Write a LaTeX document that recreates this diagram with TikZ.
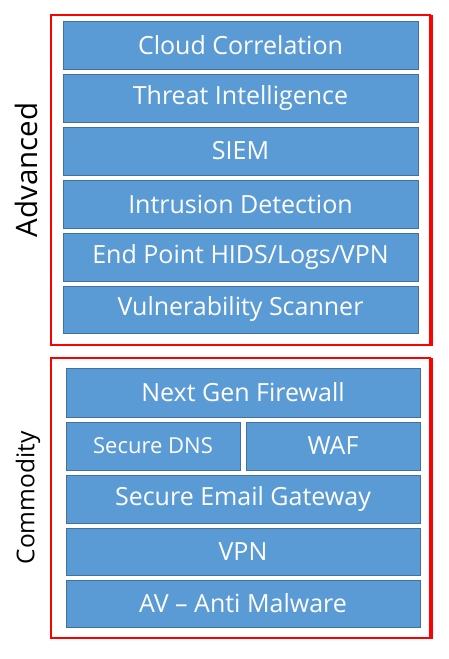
\documentclass[tikz,border=0pt]{standalone}
\usepackage{fontspec}
\setmainfont{Open Sans}
\definecolor{bfill}{HTML}{5B9BD5}
\definecolor{bline}{HTML}{41719C}
\definecolor{rline}{HTML}{FF0000}
\begin{document}
\begin{tikzpicture}[x=1pt,y=-1pt,
  layer/.style={draw=bline,fill=bfill,line width=1pt,text=white,font=\fontsize{25}{28}\selectfont,inner sep=0pt},
  group/.style={draw=rline,line width=2.4pt},
  edge/.style={draw=rline,line width=2pt},
  side/.style={rotate=90,inner sep=0pt}]
\useasboundingbox (0,0) rectangle (448,659);
\draw[group] (51,15) rectangle (430,345);
\draw[edge] (432,15) -- (432,346);
\draw[group] (51,358) rectangle (430,638);
\draw[edge] (432,358) -- (432,639);
\newcommand\layerbox[6]{\node[layer,minimum width=#4-#2,minimum height=#5-#3] (#1) at ({(#2+#4)/2},{(#3+#5)/2}) {#6};}
\layerbox{cc}{63}{21}{418}{69}{Cloud Correlation}
\layerbox{ti}{63}{74}{418}{122}{Threat Intelligence}
\layerbox{siem}{63}{127}{418}{175}{SIEM}
\layerbox{ids}{63}{180}{418}{228}{Intrusion Detection}
\layerbox{ep}{63}{233}{418}{281}{End Point HIDS/Logs/VPN}
\layerbox{vs}{63}{286}{418}{333}{Vulnerability Scanner}
\layerbox{ngf}{66}{368}{420}{417}{Next Gen Firewall}
\layerbox{dns}{66}{422}{240}{470}{\fontsize{22}{25}\selectfont Secure DNS}
\layerbox{waf}{246}{422}{420}{470}{WAF}
\layerbox{seg}{66}{475}{420}{523}{Secure Email Gateway}
\layerbox{vpn}{66}{528}{420}{575}{VPN}
\layerbox{av}{66}{580}{420}{627}{AV -- Anti Malware}
\node[side,font=\fontsize{29.5}{32}\selectfont] (adv) at (26,170) {Advanced};
\node[side,font=\fontsize{24.5}{28}\selectfont] (com) at (28,498) {Commodity};
\end{tikzpicture}
\end{document}
